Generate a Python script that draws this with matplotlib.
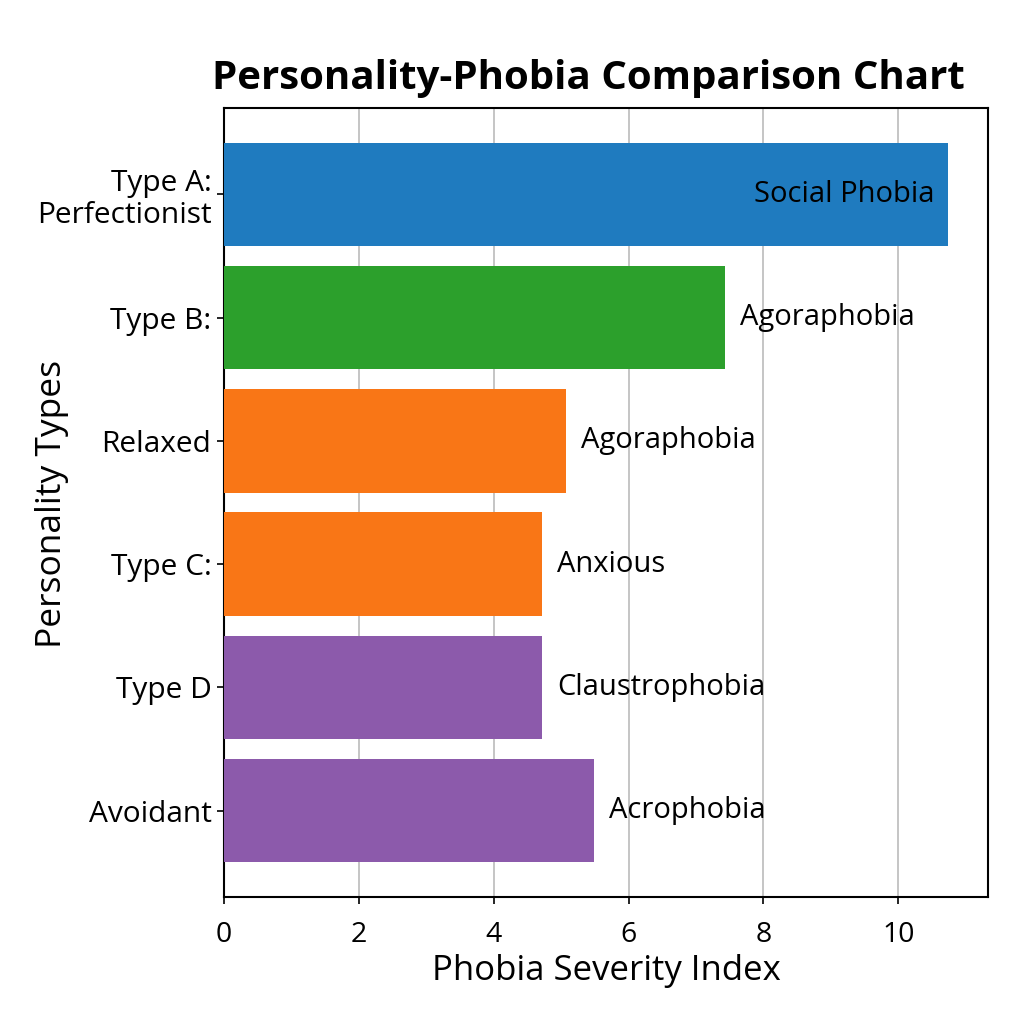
import matplotlib
matplotlib.use("Agg")
import matplotlib.pyplot as plt

categories = ["Type A:\nPerfectionist", "Type B:", "Relaxed", "Type C:", "Type D", "Avoidant"]
values = [10.74, 7.43, 5.07, 4.72, 4.72, 5.49]
phobias = ["Social Phobia", "Agoraphobia", "Agoraphobia", "Anxious", "Claustrophobia", "Acrophobia"]
colors = ["#1f7bbf", "#2ca02c", "#f97616", "#f97616", "#8c5aab", "#8c5aab"]
xticks = [0, 2, 4, 6, 8, 10]

plt.rcParams['font.family'] = ['Open Sans', 'DejaVu Sans']

fig = plt.figure(figsize=(10.24, 10.24), dpi=100)
ax = fig.add_axes([224/1024, 127/1024, 764/1024, 789/1024])

ypos = list(range(len(categories)))
ax.barh(ypos, values, height=0.84, color=colors, zorder=3)
ax.set_xlim(0, 11.33)
ax.set_ylim(5.7, -0.7)
ax.set_yticks(ypos)
ax.set_yticklabels(categories, fontsize=21.5, ha='right', multialignment='right', linespacing=1.15)
ax.set_xticks(xticks)
ax.set_xticklabels([str(t) for t in xticks], fontsize=20.5)
ax.xaxis.grid(True, color='#bbbbbb', linewidth=1.2, zorder=0)
ax.set_axisbelow(True)
for s in ax.spines.values():
    s.set_linewidth(1.5)
    s.set_color('black')
ax.tick_params(axis='both', length=5, width=1.2)
ax.tick_params(axis='x', pad=12)
ax.tick_params(axis='y', pad=4)

for i, (v, p) in enumerate(zip(values, phobias)):
    if i == 0:
        ax.text(v - 0.2, i, p, ha='right', va='center', fontsize=21, zorder=4)
    else:
        ax.text(v + 0.22, i, p, ha='left', va='center', fontsize=21, zorder=4)

ax.set_xlabel("Phobia Severity Index", fontsize=25, labelpad=4)
fig.text(52/1024, 1 - 504/1024, "Personality Types", rotation=90, ha='center', va='center',
         fontsize=25.5)
fig.text(588/1024, 1 - 79/1024, "Personality-Phobia Comparison Chart", ha='center', va='center',
         fontsize=29, fontweight='bold')

fig.savefig("out.png", dpi=100, facecolor='white')
